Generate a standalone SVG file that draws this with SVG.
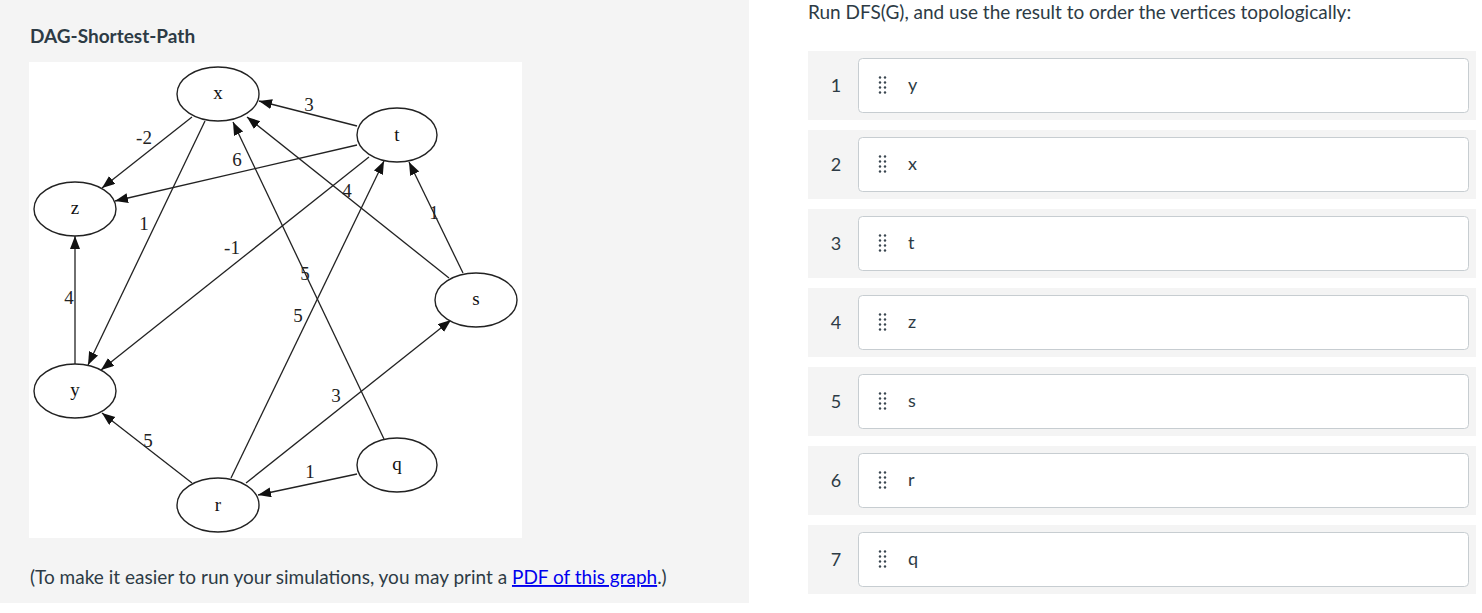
<svg xmlns="http://www.w3.org/2000/svg" width="1482" height="613" viewBox="0 0 1482 613">
<style>
.ui{font-family:Lato,"Liberation Sans",sans-serif;fill:#2d3b45;font-size:19px}
.it{font-family:Lato,"Liberation Sans",sans-serif;fill:#2d3b45;font-size:18px}
.nd ellipse{fill:#fff;stroke:#222;stroke-width:1.4}
.nd text{font-family:"Liberation Serif","Times New Roman",serif;font-size:19px;fill:#111;text-anchor:middle}
.ed line{stroke:#222;stroke-width:1.3;marker-end:url(#ah)}
.lb{font-family:"Liberation Serif","Times New Roman",serif;font-size:19px;fill:#222;text-anchor:middle}
.row{fill:#f4f4f4}
.box{fill:#fff;stroke:#c7cdd1;stroke-width:1}
.dot{fill:#3a4650}
</style>
<defs>
<marker id="ah" markerUnits="userSpaceOnUse" markerWidth="14" markerHeight="11" refX="13" refY="5" orient="auto">
<path d="M0,0 L13,5 L0,10 z" fill="#111"/>
</marker>
<g id="dots">
<circle class="dot" cx="0" cy="-7.5" r="1.2"/><circle class="dot" cx="5" cy="-7.5" r="1.2"/>
<circle class="dot" cx="0" cy="-2.5" r="1.2"/><circle class="dot" cx="5" cy="-2.5" r="1.2"/>
<circle class="dot" cx="0" cy="2.5" r="1.2"/><circle class="dot" cx="5" cy="2.5" r="1.2"/>
<circle class="dot" cx="0" cy="7.5" r="1.2"/><circle class="dot" cx="5" cy="7.5" r="1.2"/>
</g>
</defs>
<rect width="1482" height="613" fill="#fff"/>
<rect x="0" y="0" width="749" height="603" fill="#f4f4f4"/>
<text class="ui" x="30" y="43" font-weight="bold">DAG-Shortest-Path</text>
<rect x="29" y="62" width="493" height="476" fill="#fff"/>

<g id="connectors" class="ed">
<line x1="192" y1="117" x2="102" y2="188"/>
<line x1="357" y1="126" x2="259" y2="101"/>
<line x1="357" y1="145" x2="115" y2="201"/>
<line x1="205" y1="121" x2="88" y2="365"/>
<line x1="369" y1="157" x2="101" y2="370"/>
<line x1="449" y1="278" x2="247" y2="117"/>
<line x1="384" y1="439" x2="233" y2="122"/>
<line x1="463" y1="273" x2="409" y2="162"/>
<line x1="231" y1="478" x2="384" y2="161"/>
<line x1="75" y1="364" x2="75" y2="236"/>
<line x1="246" y1="483" x2="451" y2="320"/>
<line x1="357" y1="474" x2="258" y2="495"/>
<line x1="192" y1="483" x2="102" y2="413"/>
</g>
<g id="edge-labels">
<text class="lb" x="144" y="144">-2</text>
<text class="lb" x="309" y="111">3</text>
<text class="lb" x="237" y="166">6</text>
<text class="lb" x="347" y="197">4</text>
<text class="lb" x="144" y="230">1</text>
<text class="lb" x="232" y="254">-1</text>
<text class="lb" x="434" y="219">1</text>
<text class="lb" x="69" y="304">4</text>
<text class="lb" x="305" y="280">5</text>
<text class="lb" x="298" y="322">5</text>
<text class="lb" x="336" y="402">3</text>
<text class="lb" x="310" y="478">1</text>
<text class="lb" x="148" y="447">5</text>
</g>

<g id="node-x" class="nd"><ellipse cx="218" cy="94" rx="41" ry="27"/><text x="218" y="99">x</text></g>
<g id="node-t" class="nd"><ellipse cx="397" cy="135" rx="40" ry="27"/><text x="397" y="141">t</text></g>
<g id="node-z" class="nd"><ellipse cx="75" cy="209" rx="41" ry="27"/><text x="75" y="214">z</text></g>
<g id="node-s" class="nd"><ellipse cx="476" cy="300" rx="41" ry="27"/><text x="476" y="305">s</text></g>
<g id="node-y" class="nd"><ellipse cx="75" cy="391" rx="41" ry="27"/><text x="75" y="396">y</text></g>
<g id="node-r" class="nd"><ellipse cx="218" cy="505" rx="41" ry="27"/><text x="218" y="511">r</text></g>
<g id="node-q" class="nd"><ellipse cx="397" cy="465" rx="40" ry="27"/><text x="397" y="470">q</text></g>

<text class="ui" x="30" y="584" font-size="18.8">(To make it easier to run your simulations, you may print a <tspan fill="#0000ee" text-decoration="underline">PDF of this graph</tspan>.)</text>

<text class="ui" x="808" y="19" font-size="19.4">Run DFS(G), and use the result to order the vertices topologically:</text>

<g id="item-1"><rect class="row" x="808" y="51" width="668" height="69"/><rect class="box" x="858.5" y="58.5" width="610" height="54" rx="4"/><text class="it" x="836" y="92" text-anchor="middle">1</text><use href="#dots" x="880" y="85"/><text class="it" x="908" y="91">y</text></g>
<g id="item-2"><rect class="row" x="808" y="130" width="668" height="69"/><rect class="box" x="858.5" y="137.5" width="610" height="54" rx="4"/><text class="it" x="836" y="171" text-anchor="middle">2</text><use href="#dots" x="880" y="164"/><text class="it" x="908" y="170">x</text></g>
<g id="item-3"><rect class="row" x="808" y="209" width="668" height="69"/><rect class="box" x="858.5" y="216.5" width="610" height="54" rx="4"/><text class="it" x="836" y="250" text-anchor="middle">3</text><use href="#dots" x="880" y="243"/><text class="it" x="908" y="249">t</text></g>
<g id="item-4"><rect class="row" x="808" y="288" width="668" height="69"/><rect class="box" x="858.5" y="295.5" width="610" height="54" rx="4"/><text class="it" x="836" y="329" text-anchor="middle">4</text><use href="#dots" x="880" y="322"/><text class="it" x="908" y="328">z</text></g>
<g id="item-5"><rect class="row" x="808" y="367" width="668" height="69"/><rect class="box" x="858.5" y="374.5" width="610" height="54" rx="4"/><text class="it" x="836" y="408" text-anchor="middle">5</text><use href="#dots" x="880" y="401"/><text class="it" x="908" y="407">s</text></g>
<g id="item-6"><rect class="row" x="808" y="446" width="668" height="69"/><rect class="box" x="858.5" y="453.5" width="610" height="54" rx="4"/><text class="it" x="836" y="487" text-anchor="middle">6</text><use href="#dots" x="880" y="480"/><text class="it" x="908" y="486">r</text></g>
<g id="item-7"><rect class="row" x="808" y="525" width="668" height="69"/><rect class="box" x="858.5" y="532.5" width="610" height="54" rx="4"/><text class="it" x="836" y="566" text-anchor="middle">7</text><use href="#dots" x="880" y="559"/><text class="it" x="908" y="565">q</text></g>
</svg>
